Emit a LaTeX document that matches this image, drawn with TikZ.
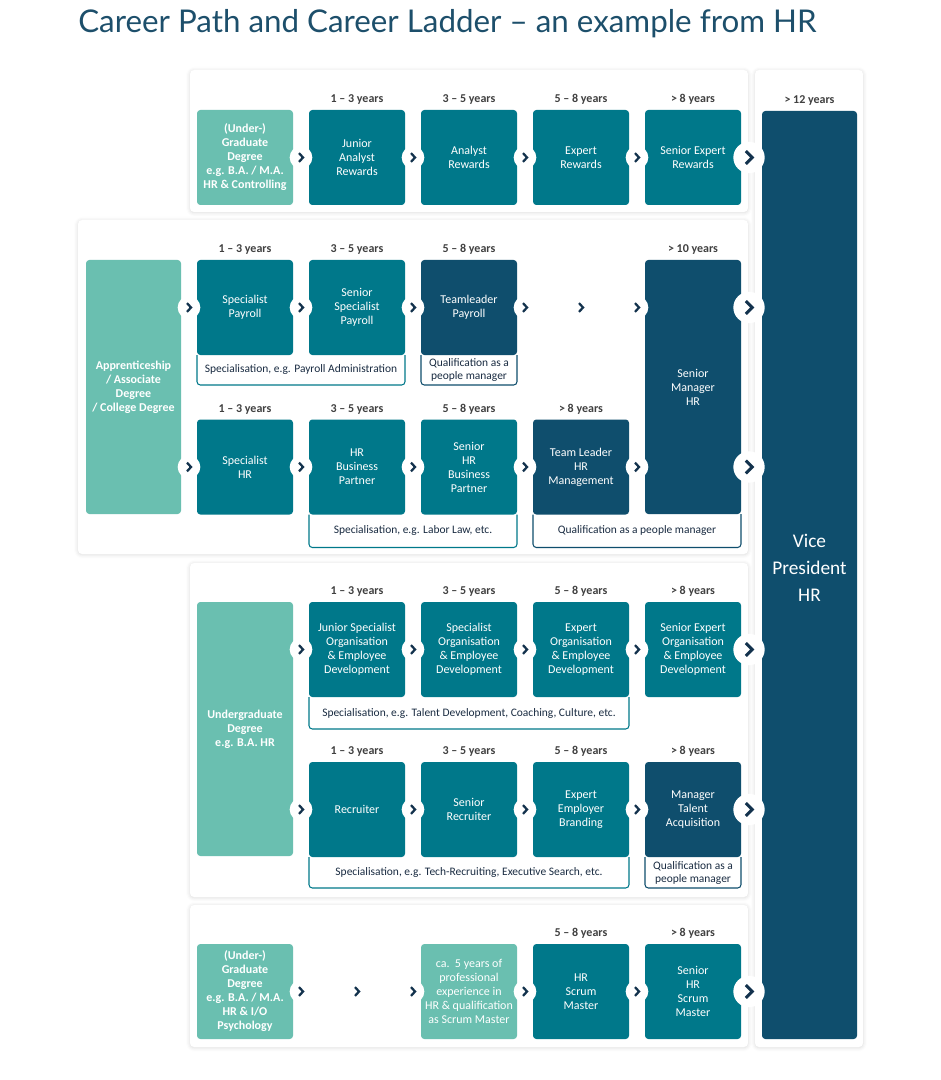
\documentclass[tikz,border=0pt]{standalone}
\usepackage{fontspec}
\setmainfont{Carlito}
\newfontfamily\headfont{Lato}
\usetikzlibrary{calc,positioning,shadows.blur}
\definecolor{eduteal}{HTML}{6ABFB0}
\definecolor{stageteal}{HTML}{00788A}
\definecolor{leadnavy}{HTML}{0F4E6D}
\definecolor{chevnavy}{HTML}{13324D}
\definecolor{yeargray}{HTML}{404040}
\definecolor{notenavy}{HTML}{1A2C42}
\definecolor{titleblue}{HTML}{1D4F6B}
\newdimen\hdim
\newdimen\wdim
\newdimen\odim
\hdim=71.25pt
\wdim=72pt
\odim=12pt
\tikzstyle{panel}=[
  fill=white,
  rounded corners=3pt,
  blur shadow={shadow xshift=0pt, shadow yshift=-.5pt,
    shadow blur radius=3pt, shadow opacity=15},
]
\tikzstyle{stage}=[
  align=center,
  fill=stageteal,
  font={\fontsize{9}{10.5}\selectfont},
  inner sep=0pt,
  minimum height=\hdim,
  minimum width=\wdim,
  outer sep=0pt,
  rectangle,
  rounded corners=2.5pt,
  text=white,
]
\tikzstyle{entry}=[
  stage,
  fill=eduteal,
  font={\fontsize{9}{10.5}\selectfont\bfseries},
]
\tikzstyle{lead}=[
  stage,
  fill=leadnavy,
]
\tikzstyle{years}=[
  font={\fontsize{9}{10}\selectfont\bfseries},
  inner sep=0pt,
  text=yeargray,
]
\tikzstyle{note}=[
  align=center,
  font={\fontsize{8.6}{9.75}\selectfont},
  inner sep=0pt,
  text=notenavy,
]
\tikzstyle{noteline}=[
  draw=stageteal,
  line width=.8pt,
  rounded corners=2.5pt,
]
\tikzstyle{hop}=[
  circle,
  fill=white,
  inner sep=0pt,
  minimum size=17pt,
  path picture={
    \draw [chevnavy, line width=1.7pt]
      ([shift={(-1.5pt,3.3pt)}]path picture bounding box.center)
      -- ++(3pt,-3.3pt) -- ++(-3pt,-3.3pt);
  },
]
\tikzstyle{bighop}=[
  circle,
  fill=white,
  inner sep=0pt,
  minimum size=23.5pt,
  path picture={
    \draw [chevnavy, line width=2.2pt]
      ([shift={(-2.4pt,4.8pt)}]path picture bounding box.center)
      -- ++(4.8pt,-4.8pt) -- ++(-4.8pt,-4.8pt);
  },
]
\begin{document}
\begin{tikzpicture}[x=.75pt, y=-.75pt]
  \useasboundingbox (0,0) rectangle (940,1080);
  \node (title) [anchor=base west, inner sep=0pt, text=titleblue,
    font={\headfont\fontsize{23.5}{28}\selectfont}] at (78,33)
    {Career Path and Career Ladder – an example from HR};
  %% panels
  \fill [panel] (190,70) rectangle (748,212);
  \fill [panel] (78,220) rectangle (748,554);
  \fill [panel] (190,563) rectangle (748,897);
  \fill [panel] (190,905) rectangle (748,1047);
  \fill [panel] (755,70) rectangle (863,1047);
  %% rewards
  \node (ugctrl) [entry] at (245,157.5) {(Under-)\\Graduate\\Degree\\e.g. B.A. / M.A.\\HR \& Controlling};
  \node (janalyst) [stage, right=\odim of ugctrl] {Junior\\Analyst\\Rewards};
  \node (analyst) [stage, right=\odim of janalyst] {Analyst\\Rewards};
  \node (expert) [stage, right=\odim of analyst] {Expert\\Rewards};
  \node (sexpert) [stage, right=\odim of expert] {Senior Expert\\Rewards};
  \node (vp) [lead, minimum width=71.25pt, minimum height=696pt] at (809.5,575) {};
  \node (vptext) [align=center, text=white, inner sep=0pt,
    font={\fontsize{14.5}{20.5}\selectfont}] at ($(vp.center)+(0,-7)$) {Vice\\President\\HR};
  \node (yjanalyst) [years, above=4pt of janalyst] {1 – 3 years};
  \node (yanalyst) [years, above=4pt of analyst] {3 – 5 years};
  \node (yexpert) [years, above=4pt of expert] {5 – 8 years};
  \node (ysexpert) [years, above=4pt of sexpert] {> 8 years};
  \node (yvp) [years, above=4pt of vp] {> 12 years};
  \node (go1) [hop] at ($(ugctrl.east)+(.5\odim,0)$) {};
  \node (go2) [hop] at ($(janalyst.east)+(.5\odim,0)$) {};
  \node (go3) [hop] at ($(analyst.east)+(.5\odim,0)$) {};
  \node (go4) [hop] at ($(expert.east)+(.5\odim,0)$) {};
  \node (go5) [bighop] at ($(sexpert.east)+(.5\odim,0)$) {};
  %% apprenticeship
  \node (appr) [entry, minimum height=190.5pt, minimum width=71.25pt] at (133.5,387)
    {Apprenticeship\\/ Associate\\Degree\\/ College Degree};
  \node (spayroll) [stage] at (245,307.5) {Specialist\\Payroll};
  \node (sspayroll) [stage, right=\odim of spayroll] {Senior\\Specialist\\Payroll};
  \node (tlpayroll) [lead, right=\odim of sspayroll] {Teamleader\\Payroll};
  \node (smhr) [lead, minimum height=190.5pt] at (693,387) {Senior\\Manager\\HR};
  \node (shr) [stage] at (245,467) {Specialist\\HR};
  \node (hrbp) [stage, right=\odim of shr] {HR\\Business\\Partner};
  \node (shrbp) [stage, right=\odim of hrbp] {Senior\\HR\\Business\\Partner};
  \node (tlhrm) [lead, right=\odim of shrbp] {Team Leader\\HR\\Management};
  \node (yspayroll) [years, above=4pt of spayroll] {1 – 3 years};
  \node (ysspayroll) [years, above=4pt of sspayroll] {3 – 5 years};
  \node (ytlpayroll) [years, above=4pt of tlpayroll] {5 – 8 years};
  \node (ysmhr) [years, above=4pt of smhr] {> 10 years};
  \node (yshr) [years, above=4pt of shr] {1 – 3 years};
  \node (yhrbp) [years, above=4pt of hrbp] {3 – 5 years};
  \node (yshrbp) [years, above=4pt of shrbp] {5 – 8 years};
  \node (ytlhrm) [years, above=4pt of tlhrm] {> 8 years};
  \node (paynote) [note] at ($(spayroll.south)!.5!(sspayroll.south)+(0,15)$)
    {Specialisation, e.g. Payroll Administration};
  \draw [noteline] (spayroll.south west) -- ++(0,30) -| (sspayroll.south east);
  \node (tlpnote) [note] at ($(tlpayroll.south)+(0,15)$) {Qualification as a\\people manager};
  \draw [noteline, draw=leadnavy] (tlpayroll.south west) -- ++(0,30) -| (tlpayroll.south east);
  \node (lawnote) [note] at ($(hrbp.south)!.5!(shrbp.south)+(0,16)$)
    {Specialisation, e.g. Labor Law, etc.};
  \draw [noteline] (hrbp.south west) -- ++(0,33) -| (shrbp.south east);
  \node (tlhnote) [note] at ($(tlhrm.south)!.5!(smhr.south)+(0,16)$)
    {Qualification as a people manager};
  \draw [noteline, draw=leadnavy] (tlhrm.south west) -- ++(0,33) -| (smhr.south east);
  \node (go6) [hop] at ($(spayroll.west)-(.5\odim,0)$) {};
  \node (go7) [hop] at ($(spayroll.east)+(.5\odim,0)$) {};
  \node (go8) [hop] at ($(sspayroll.east)+(.5\odim,0)$) {};
  \node (go9) [hop] at ($(tlpayroll.east)+(.5\odim,0)$) {};
  \node (go10) [hop] at ($(tlpayroll.east)!.5!(smhr.west |- tlpayroll.east)$) {};
  \node (go11) [hop] at ($(smhr.west |- tlpayroll.east)-(.5\odim,0)$) {};
  \node (go12) [bighop] at ($(smhr.east |- tlpayroll.east)+(.5\odim,0)$) {};
  \node (go13) [hop] at ($(shr.west)-(.5\odim,0)$) {};
  \node (go14) [hop] at ($(shr.east)+(.5\odim,0)$) {};
  \node (go15) [hop] at ($(hrbp.east)+(.5\odim,0)$) {};
  \node (go16) [hop] at ($(shrbp.east)+(.5\odim,0)$) {};
  \node (go17) [hop] at ($(tlhrm.east)+(.5\odim,0)$) {};
  \node (go18) [bighop] at ($(smhr.east |- tlhrm.east)+(.5\odim,0)$) {};
  %% undergraduate
  \node (ugdeg) [entry, minimum height=190.5pt] at (245,729) {Undergraduate\\Degree\\e.g. B.A. HR};
  \node (jsoed) [stage] at (357,649.5) {Junior Specialist\\Organisation\\\& Employee\\Development};
  \node (soed) [stage, right=\odim of jsoed] {Specialist\\Organisation\\\& Employee\\Development};
  \node (eoed) [stage, right=\odim of soed] {Expert\\Organisation\\\& Employee\\Development};
  \node (seoed) [stage, right=\odim of eoed] {Senior Expert\\Organisation\\\& Employee\\Development};
  \node (recr) [stage] at (357,809.5) {Recruiter};
  \node (srecr) [stage, right=\odim of recr] {Senior\\Recruiter};
  \node (eeb) [stage, right=\odim of srecr] {Expert\\Employer\\Branding};
  \node (mta) [lead, right=\odim of eeb] {Manager\\Talent\\Acquisition};
  \node (yjsoed) [years, above=4pt of jsoed] {1 – 3 years};
  \node (ysoed) [years, above=4pt of soed] {3 – 5 years};
  \node (yeoed) [years, above=4pt of eoed] {5 – 8 years};
  \node (yseoed) [years, above=4pt of seoed] {> 8 years};
  \node (yrecr) [years, above=4pt of recr] {1 – 3 years};
  \node (ysrecr) [years, above=4pt of srecr] {3 – 5 years};
  \node (yeeb) [years, above=4pt of eeb] {5 – 8 years};
  \node (ymta) [years, above=4pt of mta] {> 8 years};
  \node (oednote) [note] at ($(jsoed.south)!.5!(eoed.south)+(0,16)$)
    {Specialisation, e.g. Talent Development, Coaching, Culture, etc.};
  \draw [noteline] (jsoed.south west) -- ++(0,32) -| (eoed.south east);
  \node (recnote) [note] at ($(recr.south)!.5!(eeb.south)+(0,15.5)$)
    {Specialisation, e.g. Tech-Recruiting, Executive Search, etc.};
  \draw [noteline] (recr.south west) -- ++(0,31) -| (eeb.south east);
  \node (mtanote) [note] at ($(mta.south)+(0,15.5)$) {Qualification as a\\people manager};
  \draw [noteline, draw=leadnavy] (mta.south west) -- ++(0,31) -| (mta.south east);
  \node (go19) [hop] at ($(jsoed.west)-(.5\odim,0)$) {};
  \node (go20) [hop] at ($(jsoed.east)+(.5\odim,0)$) {};
  \node (go21) [hop] at ($(soed.east)+(.5\odim,0)$) {};
  \node (go22) [hop] at ($(eoed.east)+(.5\odim,0)$) {};
  \node (go23) [bighop] at ($(seoed.east)+(.5\odim,0)$) {};
  \node (go24) [hop] at ($(recr.west)-(.5\odim,0)$) {};
  \node (go25) [hop] at ($(recr.east)+(.5\odim,0)$) {};
  \node (go26) [hop] at ($(srecr.east)+(.5\odim,0)$) {};
  \node (go27) [hop] at ($(eeb.east)+(.5\odim,0)$) {};
  \node (go28) [bighop] at ($(mta.east)+(.5\odim,0)$) {};
  %% scrum
  \node (ugpsy) [entry] at (245,991.5) {(Under-)\\Graduate\\Degree\\e.g. B.A. / M.A.\\HR \& I/O\\Psychology};
  \node (scrumexp) [stage, fill=eduteal, right=\wdim+2*\odim of ugpsy]
    {ca.\ \ 5 years of\\professional\\experience in\\HR \& qualification\\as Scrum Master};
  \node (hrsm) [stage, right=\odim of scrumexp] {HR\\Scrum\\Master};
  \node (shrsm) [stage, right=\odim of hrsm] {Senior\\HR\\Scrum\\Master};
  \node (yhrsm) [years, above=4pt of hrsm] {5 – 8 years};
  \node (yshrsm) [years, above=4pt of shrsm] {> 8 years};
  \node (go29) [hop] at ($(ugpsy.east)+(.5\odim,0)$) {};
  \node (go30) [hop] at ($(ugpsy.east)!.5!(scrumexp.west)$) {};
  \node (go31) [hop] at ($(scrumexp.west)-(.5\odim,0)$) {};
  \node (go32) [hop] at ($(scrumexp.east)+(.5\odim,0)$) {};
  \node (go33) [hop] at ($(hrsm.east)+(.5\odim,0)$) {};
  \node (go34) [bighop] at ($(shrsm.east)+(.5\odim,0)$) {};
\end{tikzpicture}
\end{document}
